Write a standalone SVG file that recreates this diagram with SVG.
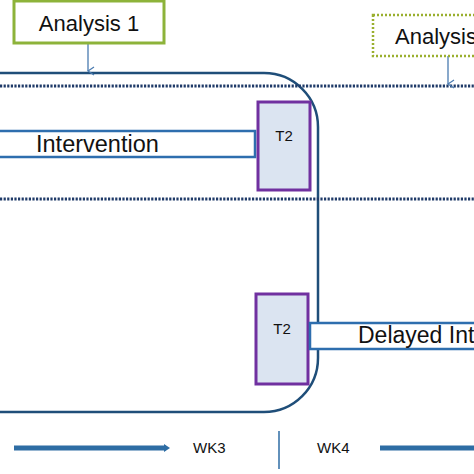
<svg xmlns="http://www.w3.org/2000/svg" width="474" height="474" viewBox="0 0 474 474">
<defs>
<style>
.lbl{font-family:"Liberation Sans",Arial,sans-serif;fill:#111;}
.big{font-size:22px;}
.sm{font-size:15px;}
.wk{font-size:15px;}
.dot{stroke:#1f3a68;stroke-width:2.8;stroke-dasharray:2.2 1.4;fill:none;}
.bar{fill:#fff;stroke:#2e6eae;stroke-width:2.5;}
.tbox{fill:#dbe4f1;stroke:#7030a0;stroke-width:3;}
.thin{stroke:#4a7bb0;stroke-width:1.3;fill:none;}
</style>
<marker id="vhead" markerWidth="10" markerHeight="10" refX="5" refY="9" orient="auto" markerUnits="userSpaceOnUse" viewBox="0 0 10 10">
<path d="M1,3 L5,9 L9,3" fill="none" stroke="#4a7bb0" stroke-width="1.3"/>
</marker>
<marker id="thick" markerWidth="8" markerHeight="10" refX="2" refY="5" orient="auto" markerUnits="userSpaceOnUse" viewBox="0 0 8 10">
<path d="M0,1 L6,5 L0,9 Z" fill="#2e6da4"/>
</marker>
</defs>
<rect width="474" height="474" fill="#fff"/>

<g id="frame">
<path d="M-20,73 H264 A54,54 0 0 1 318,127 V358 A54,54 0 0 1 264,412 H-20" fill="none" stroke="#1f4e79" stroke-width="2.5"/>
</g>

<g id="dotted-lines">
<line class="dot" x1="0" y1="86" x2="474" y2="86"/>
<line class="dot" x1="0" y1="199" x2="474" y2="199"/>
</g>

<g id="connectors">
<line class="thin" x1="88" y1="43" x2="88" y2="71" marker-end="url(#vhead)"/>
<line class="thin" x1="448" y1="56" x2="448" y2="84" marker-end="url(#vhead)"/>
</g>

<g id="analysis1">
<rect x="14" y="1" width="150" height="42" fill="#fff" stroke="#8db33a" stroke-width="3"/>
<text class="lbl big" x="89" y="31" text-anchor="middle">Analysis 1</text>
</g>

<g id="analysis2">
<rect x="373" y="15" width="120" height="41" fill="#fff" stroke="#9aaf2e" stroke-width="2.5" stroke-dasharray="2 2"/>
<text class="lbl big" x="395" y="44">Analysis</text>
</g>

<g id="intervention">
<rect class="bar" x="-10" y="131" width="265" height="26"/>
<text class="lbl" x="36" y="152" font-size="23.5">Intervention</text>
</g>

<g id="t2-top">
<rect class="tbox" x="258" y="102" width="52" height="88"/>
<text class="lbl sm" x="284" y="141" text-anchor="middle">T2</text>
</g>

<g id="t2-bottom">
<rect class="tbox" x="256" y="294" width="52" height="90"/>
<text class="lbl sm" x="282" y="334" text-anchor="middle">T2</text>
</g>

<g id="delayed">
<rect class="bar" x="310" y="323" width="180" height="26"/>
<text class="lbl" x="358" y="343" font-size="23">Delayed Int</text>
</g>

<g id="timeline">
<line x1="14" y1="448" x2="166" y2="448" stroke="#2e6da4" stroke-width="5" marker-end="url(#thick)"/>
<text class="lbl wk" x="193" y="453">WK3</text>
<line x1="279" y1="431" x2="279" y2="469" stroke="#2e6da4" stroke-width="1.5"/>
<text class="lbl wk" x="317" y="453">WK4</text>
<line x1="380" y1="448" x2="480" y2="448" stroke="#2e6da4" stroke-width="5"/>
</g>
</svg>
